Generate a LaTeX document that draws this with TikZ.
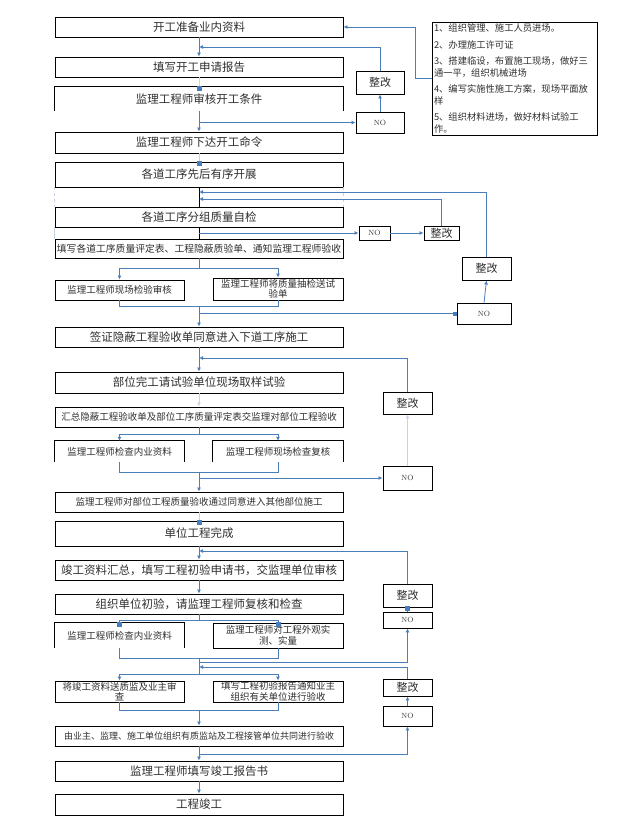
\documentclass[tikz,border=0pt]{standalone}
\usepackage{fontspec}
\newfontfamily\cjk{Noto Sans CJK SC}
\usetikzlibrary{arrows.meta}
\definecolor{lnblue}{HTML}{4A7EBB}
\definecolor{faint}{HTML}{C8D4E4}
\newcommand\sqmark[1]{\fill[lnblue] ([xshift=-2.5pt,yshift=-4pt]#1) rectangle ++(5,-5);}
\tikzset{
  box/.style={draw=black, line width=0.9pt, inner sep=0pt, align=center, text=black!82},
  obox/.style={inner sep=0pt, align=center, text=black!82},
  fbig/.style={font=\cjk\fontsize{11.5}{13}\selectfont},
  fmid/.style={font=\cjk\fontsize{9.8}{11}\selectfont},
  fsm/.style={font=\cjk\fontsize{9.5}{10.5}\selectfont},
  fno/.style={font=\fontsize{7.5}{9}\selectfont},
  mbox/.style={box, minimum width=288pt, minimum height=#1},
  mbox/.default=20pt,
  lbox/.style={box, minimum width=129pt, minimum height=#1, fsm},
  lbox/.default=20pt,
  rbox/.style={box, minimum width=130pt, minimum height=#1, fsm},
  rbox/.default=20pt,
  zbox/.style={box, minimum width=49pt, minimum height=#1, font=\cjk\fontsize{11}{12}\selectfont},
  nbox/.style={box, minimum width=49pt, minimum height=#1, fno},
  ln/.style={draw=lnblue, line width=0.8pt},
  arr/.style={ln, -{Latex[length=4pt,width=4pt]}},
  faintln/.style={draw=faint, line width=0.8pt},
}
\begin{document}
\begin{tikzpicture}[x=1pt,y=-1pt]
\useasboundingbox (0,0) rectangle (643,816);

% ---------- main column ----------
\node[mbox,fbig] (b1) at (199,27) {开工准备业内资料};
\node[mbox,fbig] (b2) at (199,67) {填写开工申请报告};
\node[obox,minimum width=288pt,minimum height=24pt,fbig] (b3) at (199,99) {监理工程师审核开工条件};
\node[mbox=21pt,fbig] (b4) at (199,142.5) {监理工程师下达开工命令};
\node[mbox=25pt,fbig] (b5) at (199,174.5) {各道工序先后有序开展};
\node[mbox,fbig] (b6) at (199,217) {各道工序分组质量自检};
\node[mbox=19pt,fmid] (b7) at (199,248.5) {填写各道工序质量评定表、工程隐蔽质验单、通知监理工程师验收};
\node[lbox] (b8a) at (119.5,290) {监理工程师现场检验审核};
\node[rbox=22pt] (b8b) at (278,289) {监理工程师将质量抽检送试\\验单};
\node[mbox,fbig] (b9) at (199,337) {签证隐蔽工程验收单同意进入下道工序施工};
\node[mbox=21pt,fbig] (b10) at (199,382.5) {部位完工请试验单位现场取样试验};
\node[mbox,fsm] (b11) at (199,417) {汇总隐蔽工程验收单及部位工序质量评定表交监理对部位工程验收};
\node[obox,minimum width=129pt,minimum height=21pt,fsm] (b12a) at (119.5,451.5) {监理工程师检查内业资料};
\node[obox,minimum width=130pt,minimum height=21pt,fsm] (b12b) at (278,451.5) {监理工程师现场检查复核};
\node[mbox,fsm] (b13) at (199,502) {监理工程师对部位工程质量验收通过同意进入其他部位施工};
\node[mbox=25pt,fbig] (b14) at (199,533.5) {单位工程完成};
\node[mbox,fbig] (b15) at (199,570) {竣工资料汇总，填写工程初验申请书，交监理单位审核};
\node[mbox,fbig] (b16) at (199,604) {组织单位初验，请监理工程师复核和检查};
\node[obox,minimum width=129pt,minimum height=25pt,fsm] (b17a) at (119.5,635.5) {监理工程师检查内业资料};
\node[rbox=25pt] (b17b) at (278,635.5) {监理工程师对工程外观实\\测、实量};
\node[lbox=21pt] (b18a) at (119.5,691.5) {将竣工资料送质监及业主审\\查};
\node[rbox=21pt] (b18b) at (278,691.5) {填写工程初验报告通知业主\\组织有关单位进行验收};
\node[mbox,font=\cjk\fontsize{9}{10}\selectfont] (b19) at (199,736) {由业主、监理、施工单位组织有质监站及工程接管单位共同进行验收};
\node[mbox,fbig] (b20) at (199,771) {监理工程师填写竣工报告书};
\node[mbox=21pt,fbig] (b21) at (199,804.5) {工程竣工};

% open-bottom boxes
\foreach \n in {b3,b12a,b12b,b17a}
  \draw[black, line width=0.9pt] (\n.south west) -- (\n.north west) -- (\n.north east) -- (\n.south east);

% ---------- right side ----------
\node[box, minimum width=165pt, minimum height=113pt, inner sep=1.5pt, text width=161pt, align=left,
      font=\cjk\fontsize{9.3}{11.5}\selectfont] (tb) at (514.5,78.5)
  {1、组织管理、施工人员进场。\\[5pt]2、办理施工许可证\\[5pt]3、搭建临设，布置施工现场，做好三\\通一平，组织机械进场\\[5pt]4、编写实施性施工方案，现场平面放\\样\\[5pt]5、组织材料进场，做好材料试验工\\作。};
\node[zbox=23pt, minimum width=48pt] (zg1) at (380,82.5) {整改};
\node[nbox=21pt, minimum width=48pt] (no1) at (380,122.5) {NO};
\node[nbox=14pt, minimum width=31pt] (no2) at (374.5,233) {NO};
\node[zbox=14pt, minimum width=35pt] (zg2) at (441.5,233) {整改};
\node[zbox=23pt] (zg3) at (486.5,268.5) {整改};
\node[nbox=21pt, minimum width=54pt] (no3) at (484,313.5) {NO};
\node[zbox=22pt] (zg4) at (407.5,403) {整改};
\node[nbox=24pt] (no4) at (407.5,478) {NO};
\node[zbox=23pt] (zg5) at (407.5,595.5) {整改};
\node[nbox=16pt] (no5) at (407.5,620) {NO};
\node[zbox=17pt] (zg6) at (407.5,687.5) {整改};
\node[nbox=20pt] (no6) at (407.5,716) {NO};

% ---------- junction coordinates ----------
\coordinate (j1) at (199,47);
\coordinate (j2) at (199,122.5);
\coordinate (j3) at (199,192);
\coordinate (j4) at (199,199);
\coordinate (j5) at (199,233);
\coordinate (j6) at (199,268);   \coordinate (j6l) at (119.5,268); \coordinate (j6r) at (278,268);
\coordinate (j7) at (199,306);   \coordinate (j7l) at (119.5,306); \coordinate (j7r) at (278,306);
\coordinate (j8) at (199,313.5);
\coordinate (j9) at (199,358);
\coordinate (j10) at (199,434);  \coordinate (j10l) at (119.5,434); \coordinate (j10r) at (278,434);
\coordinate (j11) at (199,472);  \coordinate (j11l) at (119.5,472); \coordinate (j11r) at (278,472);
\coordinate (j12) at (199,478);
\coordinate (j13) at (199,551);
\coordinate (j14) at (199,620);  \coordinate (j14l) at (119.5,620); \coordinate (j14r) at (278,620);
\coordinate (j15) at (199,658);  \coordinate (j15l) at (119.5,658); \coordinate (j15r) at (278,658);
\coordinate (j16) at (199,662);
\coordinate (j17) at (199,667);
\coordinate (j18) at (199,674);  \coordinate (j18l) at (119.5,674); \coordinate (j18r) at (278,674);
\coordinate (j19) at (199,710);  \coordinate (j19l) at (119.5,710); \coordinate (j19r) at (278,710);
\coordinate (j20) at (199,754);

% ---------- connectors: start ----------
\draw[arr] (tb.west) -- ++(-16,0) |- (b1.east);
\draw[arr] (b1.south) -- (b2.north);
\draw[arr] (zg1.north) |- (j1);
\draw[faintln] (b2.south) -- (b3.north);
\sqmark{b3.north}
\draw[arr] (b3.south) -- (b4.north);
\draw[arr] (j2) -- (no1.west);
\draw[arr] (no1.north) -- (zg1.south);
\draw[faintln] (b4.south) -- (b5.north);
\sqmark{b5.north}

% ---------- process section ----------
\draw[black, line width=0.8pt] (b5.south) -- (b6.north);
\draw[faintln, dashed] (b5.south west) -- (b6.north west);
\draw[faintln, dashed] (b5.south east) -- (b6.north east);
\draw[arr] (zg3.north) |- (j3);
\draw[arr] (zg2.north) |- (j4);
\draw[black, line width=0.8pt] (b6.south) -- (b7.north);
\draw[faintln] (b6.south west) -- (b7.north west);
\draw[arr] (j5) -- (no2.west);
\draw[arr] (no2.east) -- (zg2.west);
\draw[ln] (b7.south) -- (j6);
\draw[ln] (j6l) -- (j6r);
\draw[arr] (j6l) -- (b8a.north);
\draw[arr] (j6r) -- (b8b.north);
\draw[ln] (b8a.south) -- (j7l) -- (j7r) -- (b8b.south);
\draw[arr] (j7) -- (b9.north);
\draw[ln, -{Square[length=4pt,width=4pt]}] (j8) -- (no3.west);
\draw[arr] (no3.north) -- (zg3.south);

% ---------- part section ----------
\draw[arr] (b9.south) -- (b10.north);
\draw[arr] (zg4.north) |- (j9);
\draw[arr, draw=faint] (b10.south) -- (b11.north);
\draw[ln] (b11.south) -- (j10);
\draw[ln] (j10l) -- (j10r);
\draw[arr] (j10l) -- (b12a.north);
\draw[arr] (j10r) -- (b12b.north);
\draw[ln] (b12a.south) -- (j11l) -- (j11r) -- (b12b.south);
\draw[arr] (j11) -- (b13.north);
\draw[arr] (j12) -- (no4.west);
\draw[arr, draw=faint] (no4.north) -- (zg4.south);
\draw[faintln] (b13.south) -- (b14.north);
\sqmark{b14.north}

% ---------- completion section ----------
\draw[arr] (b14.south) -- (b15.north);
\draw[arr] (zg5.north) |- (j13);
\draw[arr] (b15.south) -- (b16.north);
\draw[ln] (b16.south) -- (j14);
\draw[ln] (j14l) -- (j14r);
\draw[ln] (j14l) -- (b17a.north);
\draw[ln] (j14r) -- (b17b.north);
\sqmark{b17a.north}
\sqmark{b17b.north}
\draw[ln] (b17a.south) -- (j15l) -- (j15r) -- (b17b.south);
\draw[ln] (j15) -- (j18);
\draw[arr] (j16) -| (no5.south);
\draw[ln] (no5.north) -- (zg5.south);
\sqmark{zg5.south}
\draw[arr] (zg6.north) |- (j17);
\draw[ln] (j18l) -- (j18r);
\draw[arr] (j18l) -- (b18a.north);
\draw[arr] (j18r) -- (b18b.north);
\draw[ln] (b18a.south) -- (j19l) -- (j19r) -- (b18b.south);
\draw[arr] (j19) -- (b19.north);
\draw[arr] (b19.south) -- (b20.north);
\draw[arr] (j20) -| (no6.south);
\draw[arr] (no6.north) -- (zg6.south);
\draw[arr] (b20.south) -- (b21.north);
\end{tikzpicture}
\end{document}
